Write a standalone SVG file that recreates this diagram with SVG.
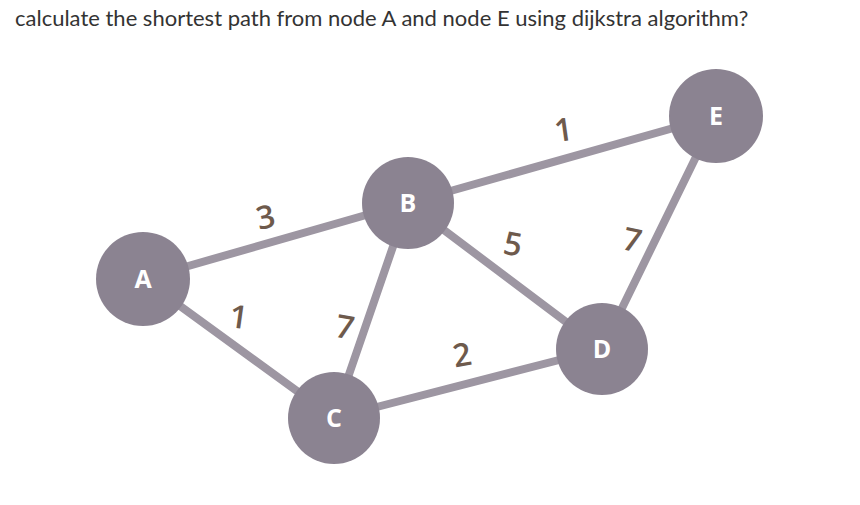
<svg xmlns="http://www.w3.org/2000/svg" width="860" height="505" viewBox="0 0 860 505">
<style>
.e{stroke:#9d96a2;stroke-width:8;stroke-linecap:round}
.n{fill:#8b8391}
.nt{font-family:"Open Sans",sans-serif;font-weight:bold;font-size:25px;fill:#fff;text-anchor:middle}
.w{font-family:"Open Sans",sans-serif;font-weight:600;font-size:32px;fill:#6e5a4c;text-anchor:middle}
</style>
<rect width="860" height="505" fill="#fff"/>
<text x="15" y="26" font-family="Lato,sans-serif" font-size="22" fill="#333">calculate the shortest path from node A and node E using dijkstra algorithm?</text>
<g id="connectors">
<line class="e" x1="143" y1="279" x2="408" y2="203"/>
<line class="e" x1="143" y1="279" x2="334" y2="418"/>
<line class="e" x1="408" y1="203" x2="334" y2="418"/>
<line class="e" x1="408" y1="203" x2="716" y2="116"/>
<line class="e" x1="408" y1="203" x2="602" y2="349"/>
<line class="e" x1="334" y1="418" x2="602" y2="349"/>
<line class="e" x1="602" y1="349" x2="716" y2="116"/>
<text class="w" transform="translate(268,228) rotate(-12)">3</text>
<text class="w" transform="translate(237,328) rotate(8)">1</text>
<text class="w" transform="translate(343,338) rotate(10)">7</text>
<text class="w" transform="translate(511,255) rotate(10)">5</text>
<text class="w" transform="translate(464,366) rotate(-10)">2</text>
<text class="w" transform="translate(565,141) rotate(-8)">1</text>
<text class="w" transform="translate(630,251) rotate(12)">7</text>
</g>
<g id="A"><circle class="n" cx="143" cy="279" r="47"/><text class="nt" x="143" y="288">A</text></g>
<g id="B"><circle class="n" cx="408" cy="203" r="46"/><text class="nt" x="408" y="212">B</text></g>
<g id="C"><circle class="n" cx="334" cy="418" r="46"/><text class="nt" x="334" y="427">C</text></g>
<g id="D"><circle class="n" cx="602" cy="349" r="46"/><text class="nt" x="602" y="358">D</text></g>
<g id="E"><circle class="n" cx="716" cy="116" r="47"/><text class="nt" x="716" y="125">E</text></g>
</svg>
